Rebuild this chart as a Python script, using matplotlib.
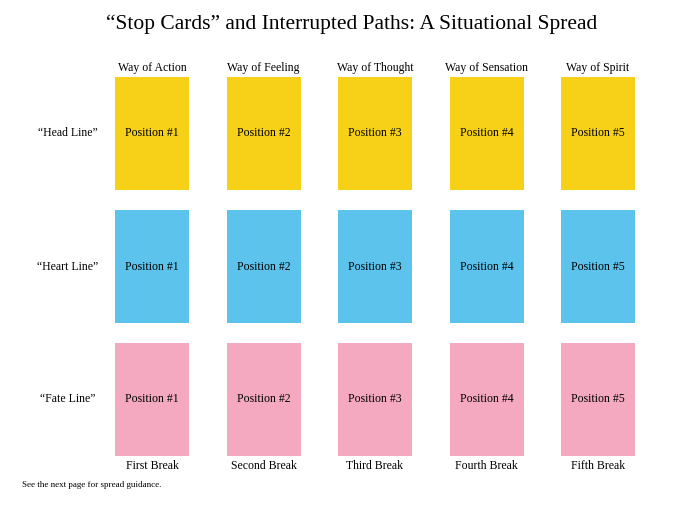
import matplotlib.pyplot as plt
from matplotlib.patches import Rectangle

plt.rcParams['font.family'] = ['Liberation Serif', 'DejaVu Serif']

title = '\u201cStop Cards\u201d and Interrupted Paths: A Situational Spread'
col_labels = ['Way of Action', 'Way of Feeling', 'Way of Thought', 'Way of Sensation', 'Way of Spirit']
row_labels = ['\u201cHead Line\u201d', '\u201cHeart Line\u201d', '\u201cFate Line\u201d']
row_colors = ['#f7d117', '#5cc3ec', '#f5a9c1']
break_labels = ['First Break', 'Second Break', 'Third Break', 'Fourth Break', 'Fifth Break']
card_labels = ['Position #1', 'Position #2', 'Position #3', 'Position #4', 'Position #5']
footer = 'See the next page for spread guidance.'

fig = plt.figure(figsize=(6.76, 5.07), dpi=100)
ax = fig.add_axes([0, 0, 1, 1])
ax.set_xlim(0, 676)
ax.set_ylim(507, 0)
ax.axis('off')

x0, dx, w = 115, 111.5, 74
y0, dy, h = 77, 133, 113

ax.text(352, 24, title, ha='center', va='center', fontsize=15.5)
for j, lab in enumerate(col_labels):
    ax.text(x0 + j * dx + w / 2, 68, lab, ha='center', va='center', fontsize=8.5)
for i, (rl, c) in enumerate(zip(row_labels, row_colors)):
    yc = y0 + i * dy + h / 2
    ax.text(68, yc, rl, ha='center', va='center', fontsize=8.5)
    for j, cl in enumerate(card_labels):
        ax.add_patch(Rectangle((x0 + j * dx, y0 + i * dy), w, h, color=c, lw=0))
        ax.text(x0 + j * dx + w / 2, yc, cl, ha='center', va='center', fontsize=8.5)
for j, lab in enumerate(break_labels):
    ax.text(x0 + j * dx + w / 2, 466, lab, ha='center', va='center', fontsize=8.5)
ax.text(22, 485, footer, ha='left', va='center', fontsize=6.5)

fig.savefig('out.png', dpi=100)
